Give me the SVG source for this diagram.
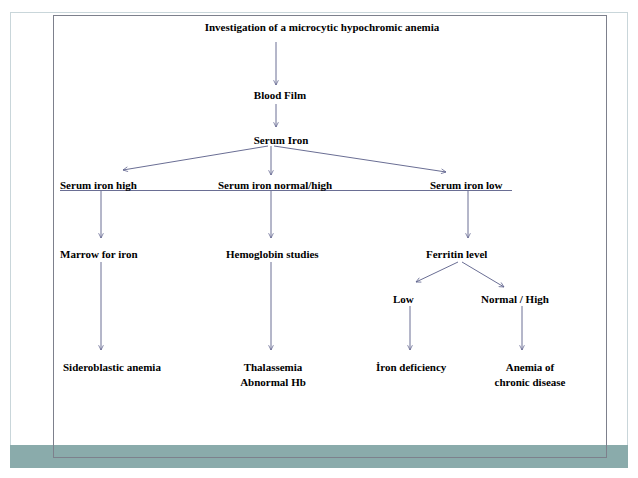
<svg xmlns="http://www.w3.org/2000/svg" width="638" height="478" viewBox="0 0 638 478">
<defs>
<marker id="ah" viewBox="0 0 10 10" refX="9" refY="5" markerWidth="6" markerHeight="6" orient="auto"><path d="M1,1 L9,5 L1,9" fill="none" stroke="#5a5e8a" stroke-width="1.2"/></marker>
<style>
text{font-family:"Liberation Serif",serif;font-weight:bold;font-size:11px;fill:#000}
.c{text-anchor:middle}
.l{stroke:#6a6e94;stroke-width:1;fill:none}
.a{stroke:#6a6e94;stroke-width:1;fill:none;marker-end:url(#ah)}
</style>
</defs>
<rect width="638" height="478" fill="#fff"/>
<rect x="10.5" y="12.5" width="617" height="455" fill="none" stroke="#c9d6da"/>
<rect x="10" y="445" width="618" height="23" fill="#8aabab"/>
<rect x="53.5" y="15.5" width="553" height="442" fill="none" stroke="#7d808c"/>
<g id="connectors">
<line class="a" x1="276" y1="42" x2="276" y2="85"/>
<line class="a" x1="276" y1="104" x2="276" y2="127"/>
<line class="a" x1="268" y1="146" x2="123" y2="170"/>
<line class="a" x1="271" y1="146" x2="271" y2="175"/>
<line class="a" x1="274" y1="146" x2="446" y2="172"/>
<line class="l" x1="60" y1="190.5" x2="512" y2="190.5"/>
<line class="a" x1="101" y1="191" x2="101" y2="238"/>
<line class="a" x1="271" y1="191" x2="271" y2="238"/>
<line class="a" x1="468" y1="191" x2="468" y2="238"/>
<line class="a" x1="458" y1="262" x2="416" y2="282"/>
<line class="a" x1="462" y1="262" x2="504" y2="287"/>
<line class="a" x1="101" y1="262" x2="101" y2="350"/>
<line class="a" x1="271" y1="262" x2="271" y2="350"/>
<line class="a" x1="410" y1="306" x2="410" y2="350"/>
<line class="a" x1="522" y1="306" x2="522" y2="350"/>
</g>
<g id="n-title"><text x="322" y="31" class="c">Investigation of a microcytic  hypochromic anemia</text></g>
<g id="n-blood"><text x="280" y="99" class="c">Blood Film</text></g>
<g id="n-serum"><text x="281" y="144" class="c">Serum Iron</text></g>
<g id="n-high"><text x="60" y="189">Serum iron high</text></g>
<g id="n-normal"><text x="218" y="189">Serum iron normal/high</text></g>
<g id="n-low"><text x="430" y="189">Serum iron low</text></g>
<g id="n-marrow"><text x="60" y="258">Marrow for iron</text></g>
<g id="n-hb"><text x="226" y="258">Hemoglobin studies</text></g>
<g id="n-ferritin"><text x="426" y="258">Ferritin level</text></g>
<g id="n-flow"><text x="393" y="303">Low</text></g>
<g id="n-fnormal"><text x="481" y="303">Normal / High</text></g>
<g id="n-sidero"><text x="63" y="371">Sideroblastic anemia</text></g>
<g id="n-thal"><text x="273" y="371" class="c">Thalassemia</text><text x="273" y="386" class="c">Abnormal Hb</text></g>
<g id="n-irondef"><text x="376" y="371">İron deficiency</text></g>
<g id="n-acd"><text x="530" y="371" class="c">Anemia of</text><text x="530" y="386" class="c">chronic disease</text></g>
</svg>
